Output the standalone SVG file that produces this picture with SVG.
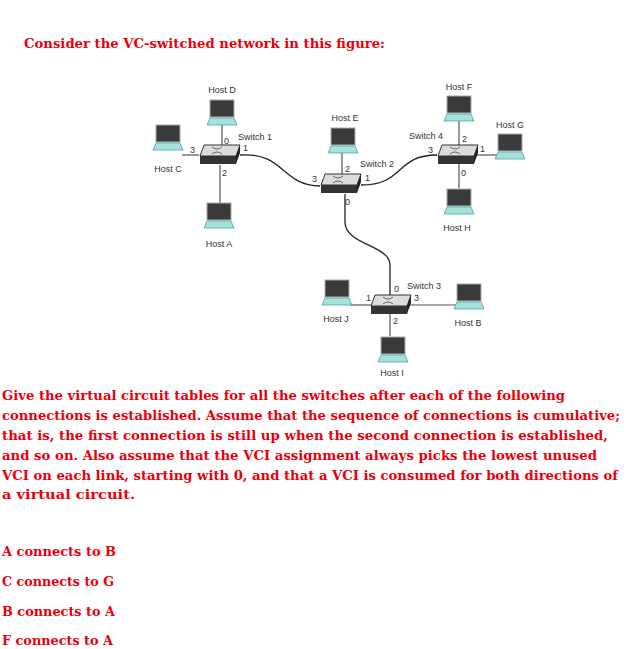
<svg xmlns="http://www.w3.org/2000/svg" width="641" height="649" viewBox="0 0 641 649">
<defs>
<style>
.t{font-family:"Liberation Sans",Arial,sans-serif;font-size:9px;fill:#333}
.m{text-anchor:middle}
.r{font-family:"DejaVu Serif",serif;font-weight:bold;font-size:13.5px;fill:#e8000b}
.ln{fill:none;stroke:#222;stroke-width:1.3}
.hl{stroke:#555;stroke-width:1.2}
</style>
<g id="laptop">
<rect x="-12" y="-12" width="24" height="17" fill="#3a3a3a" stroke="#aaa" stroke-width="1"/>
<polygon points="-12,6 12,6 15,13 -15,13" fill="#a8e0dc" stroke="#4aa" stroke-width="0.8"/>
</g>
<g id="switch">
<polygon points="-15,-10 21,-10 17,1 -19,1" fill="#dcdcdc" stroke="#333" stroke-width="1"/>
<rect x="-19" y="1" width="36" height="8" fill="#333"/>
<polygon points="17,1 21,-10 21,-2 17,9" fill="#222"/>
<path d="M-7,-8 q5,4 10,0 M-7,-1 q5,-4 10,0" fill="none" stroke="#555" stroke-width="0.9"/>
</g>
</defs>
<rect width="641" height="649" fill="#fff"/>
<g id="connectors">
<path class="ln" d="M240,155 C285,152 280,185 320,186"/>
<path class="ln" d="M361,185 C405,185 395,155 437,155"/>
<path class="ln" d="M345,194 L345,222 C345,245 390,245 390,265 L390,297"/>
<line class="hl" x1="222" y1="125" x2="222" y2="146"/>
<line class="hl" x1="182" y1="155" x2="199" y2="155"/>
<line class="hl" x1="220" y1="165" x2="220" y2="203"/>
<line class="hl" x1="342" y1="152" x2="342" y2="175"/>
<line class="hl" x1="459" y1="121" x2="459" y2="146"/>
<line class="hl" x1="477" y1="155" x2="497" y2="155"/>
<line class="hl" x1="459" y1="164" x2="459" y2="188"/>
<line class="hl" x1="350" y1="305" x2="372" y2="305"/>
<line class="hl" x1="408" y1="305" x2="458" y2="305"/>
<line class="hl" x1="390" y1="314" x2="390" y2="336"/>
</g>
<g id="switch1"><use href="#switch" x="219" y="155"/><text class="t" x="238" y="140">Switch 1</text><text class="t" x="224" y="144">0</text><text class="t" x="243" y="151">1</text><text class="t" x="190" y="153">3</text><text class="t" x="222" y="176">2</text></g>
<g id="switch2"><use href="#switch" x="340" y="184"/><text class="t" x="360" y="167">Switch 2</text><text class="t" x="345" y="172">2</text><text class="t" x="365" y="181">1</text><text class="t" x="312" y="182">3</text><text class="t" x="345" y="205">0</text></g>
<g id="switch4"><use href="#switch" x="457" y="155"/><text class="t" x="409" y="139">Switch 4</text><text class="t" x="462" y="142">2</text><text class="t" x="480" y="152">1</text><text class="t" x="428" y="153">3</text><text class="t" x="461" y="176">0</text></g>
<g id="switch3"><use href="#switch" x="390" y="305"/><text class="t" x="407" y="289">Switch 3</text><text class="t" x="394" y="292">0</text><text class="t" x="414" y="301">3</text><text class="t" x="366" y="301">1</text><text class="t" x="393" y="324">2</text></g>
<g id="hostD"><use href="#laptop" x="222" y="112"/><text class="t m" x="222" y="93">Host D</text></g>
<g id="hostC"><use href="#laptop" x="168" y="137"/><text class="t m" x="168" y="172">Host C</text></g>
<g id="hostA"><use href="#laptop" x="219" y="215"/><text class="t m" x="219" y="247">Host A</text></g>
<g id="hostE"><use href="#laptop" x="343" y="140"/><text class="t m" x="345" y="121">Host E</text></g>
<g id="hostF"><use href="#laptop" x="459" y="108"/><text class="t m" x="459" y="90">Host F</text></g>
<g id="hostG"><use href="#laptop" x="510" y="146"/><text class="t m" x="510" y="128">Host G</text></g>
<g id="hostH"><use href="#laptop" x="459" y="201"/><text class="t m" x="457" y="231">Host H</text></g>
<g id="hostJ"><use href="#laptop" x="337" y="292"/><text class="t m" x="336" y="322">Host J</text></g>
<g id="hostB"><use href="#laptop" x="469" y="296"/><text class="t m" x="468" y="326">Host B</text></g>
<g id="hostI"><use href="#laptop" x="393" y="349"/><text class="t m" x="392" y="376">Host I</text></g>
<g id="text">
<text class="r" x="24" y="48" textLength="361" lengthAdjust="spacingAndGlyphs">Consider the VC-switched network in this figure:</text>
<text class="r" x="2" y="400" textLength="563" lengthAdjust="spacingAndGlyphs">Give the virtual circuit tables for all the switches after each of the following</text>
<text class="r" x="2" y="420" textLength="618" lengthAdjust="spacingAndGlyphs">connections is established. Assume that the sequence of connections is cumulative;</text>
<text class="r" x="2" y="440" textLength="606" lengthAdjust="spacingAndGlyphs">that is, the first connection is still up when the second connection is established,</text>
<text class="r" x="2" y="460" textLength="595" lengthAdjust="spacingAndGlyphs">and so on. Also assume that the VCI assignment always picks the lowest unused</text>
<text class="r" x="2" y="480" textLength="616" lengthAdjust="spacingAndGlyphs">VCI on each link, starting with 0, and that a VCI is consumed for both directions of</text>
<text class="r" x="2" y="499" textLength="133" lengthAdjust="spacingAndGlyphs">a virtual circuit.</text>
<text class="r" x="2" y="556" textLength="114" lengthAdjust="spacingAndGlyphs">A connects to B</text>
<text class="r" x="2" y="586" textLength="112" lengthAdjust="spacingAndGlyphs">C connects to G</text>
<text class="r" x="2" y="616" textLength="113" lengthAdjust="spacingAndGlyphs">B connects to A</text>
<text class="r" x="2" y="645" textLength="111" lengthAdjust="spacingAndGlyphs">F connects to A</text>
</g>
</svg>
